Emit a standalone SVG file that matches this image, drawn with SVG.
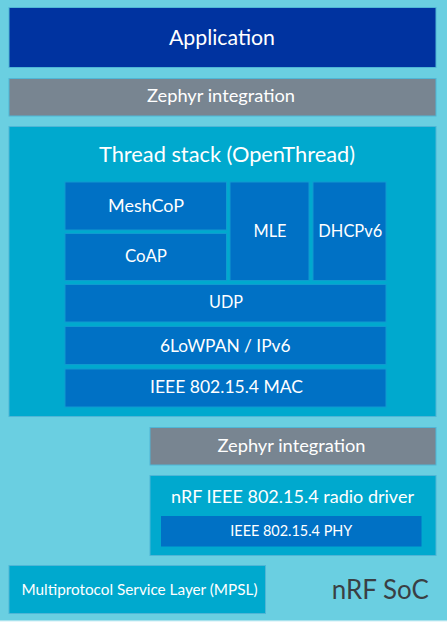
<svg xmlns="http://www.w3.org/2000/svg" width="447" height="622" viewBox="0 0 447 622">
<style>
text{font-family:Lato,"Open Sans","Liberation Sans",sans-serif;fill:#ffffff;text-anchor:middle}
.b{stroke:#4fb6d6;stroke-width:1}
.app{fill:#0033a0}
.zep{fill:#788591}
.cy{fill:#00a9ce}
.bl{fill:#0071c5;stroke:#109ad0;stroke-width:1}
.t17{font-size:17px}
</style>
<rect x="0" y="0" width="447" height="622" fill="#6acfe1"/>
<rect x="0" y="620.5" width="447" height="1.5" fill="#e6f6fa"/>
<g id="application"><rect class="app b" x="9" y="7.5" width="427" height="60"/><text x="222" y="45" style="font-size:21px" textLength="106" lengthAdjust="spacingAndGlyphs">Application</text></g>
<g id="zephyr1"><rect class="zep b" x="9" y="78.5" width="427" height="37.5"/><text class="t17" x="221" y="102" textLength="148" lengthAdjust="spacingAndGlyphs">Zephyr integration</text></g>
<g id="thread"><rect class="cy b" x="9" y="126.5" width="427" height="290"/><text x="227" y="162.3" style="font-size:21.5px" textLength="256" lengthAdjust="spacingAndGlyphs">Thread stack (OpenThread)</text></g>
<g id="meshcop"><rect class="bl" x="65" y="182" width="161.5" height="48"/><text class="t17" x="146" y="212" textLength="76" lengthAdjust="spacingAndGlyphs">MeshCoP</text></g>
<g id="coap"><rect class="bl" x="65" y="233.5" width="161.5" height="47"/><text class="t17" x="146" y="261.7" textLength="42" lengthAdjust="spacingAndGlyphs">CoAP</text></g>
<g id="mle"><rect class="bl" x="230" y="182" width="79" height="98.5"/><text class="t17" x="270" y="236.7" textLength="33" lengthAdjust="spacingAndGlyphs">MLE</text></g>
<g id="dhcpv6"><rect class="bl" x="313" y="182" width="73" height="98.5"/><text class="t17" x="350.3" y="236.7" textLength="64" lengthAdjust="spacingAndGlyphs">DHCPv6</text></g>
<g id="udp"><rect class="bl" x="65" y="284.5" width="321" height="37.5"/><text class="t17" x="226" y="307.7" textLength="34" lengthAdjust="spacingAndGlyphs">UDP</text></g>
<g id="lowpan"><rect class="bl" x="65" y="326.5" width="321" height="38"/><text class="t17" x="225.3" y="351.7" textLength="130.7" lengthAdjust="spacingAndGlyphs">6LoWPAN / IPv6</text></g>
<g id="mac"><rect class="bl" x="65" y="369" width="321" height="38"/><text class="t17" x="226.5" y="393" textLength="153" lengthAdjust="spacingAndGlyphs">IEEE 802.15.4 MAC</text></g>
<g id="zephyr2"><rect class="zep b" x="150" y="427.5" width="286" height="37.5"/><text class="t17" x="291.5" y="451.7" textLength="148" lengthAdjust="spacingAndGlyphs">Zephyr integration</text></g>
<g id="radio"><rect class="cy b" x="150" y="475.5" width="286" height="80"/><text class="t17" x="292.5" y="503" textLength="243" lengthAdjust="spacingAndGlyphs">nRF IEEE 802.15.4 radio driver</text></g>
<g id="phy"><rect fill="#0071c5" x="161" y="516" width="260.5" height="30.5"/><text x="291.3" y="535.7" style="font-size:14.8px" textLength="122" lengthAdjust="spacingAndGlyphs">IEEE 802.15.4 PHY</text></g>
<g id="mpsl"><rect class="cy b" x="9" y="565.5" width="256.5" height="48"/><text x="139.5" y="595" style="font-size:15.8px" textLength="236" lengthAdjust="spacingAndGlyphs">Multiprotocol Service Layer (MPSL)</text></g>
<g id="soc"><text x="380.3" y="599" style="font-size:26px;fill:#3a3f44" textLength="97" lengthAdjust="spacingAndGlyphs">nRF SoC</text></g>
<g id="connectors"/>
</svg>
